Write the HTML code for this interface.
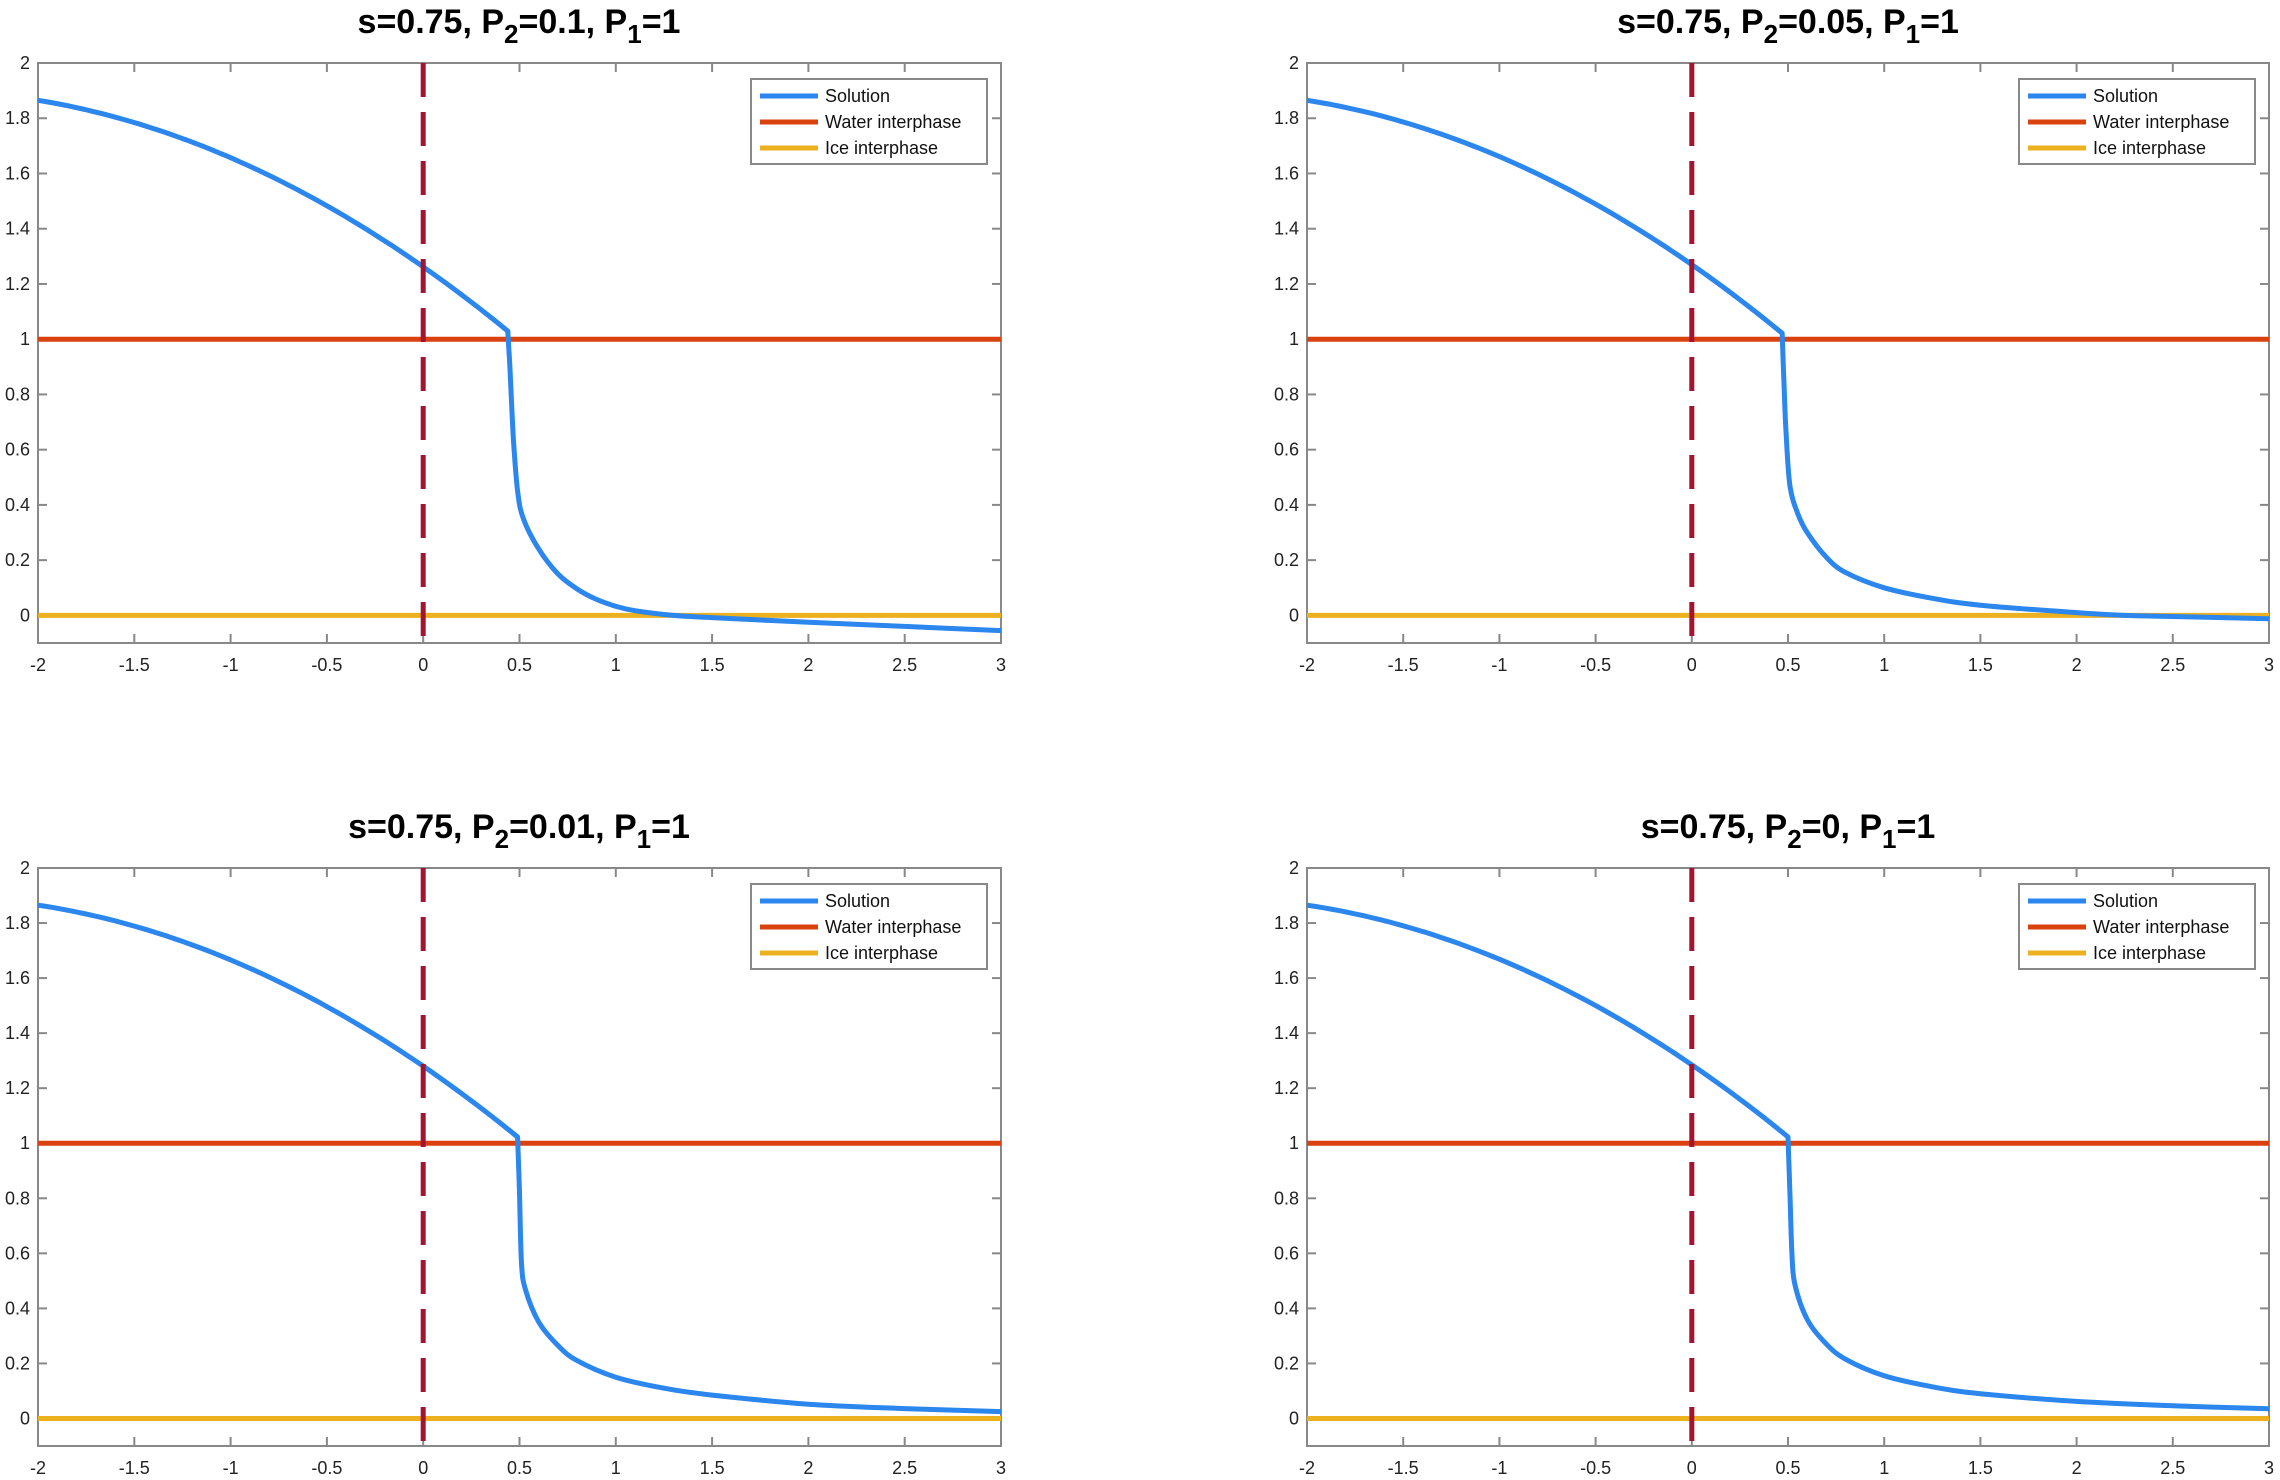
<!DOCTYPE html>
<html><head><meta charset="utf-8"><style>
html,body{margin:0;padding:0;background:#fff;width:2280px;height:1480px;overflow:hidden}
svg{display:block}
text{font-family:"Liberation Sans",Arial,sans-serif}
</style></head><body>
<svg id="s" width="2280" height="1480" xmlns="http://www.w3.org/2000/svg">
<text x="519" y="33" font-size="34" font-weight="bold" text-anchor="middle">s=0.75, P<tspan font-size="26" dy="10">2</tspan><tspan dy="-10">=0.1, P</tspan><tspan font-size="26" dy="10">1</tspan><tspan dy="-10">=1</tspan></text>
<text x="1788" y="33" font-size="34" font-weight="bold" text-anchor="middle">s=0.75, P<tspan font-size="26" dy="10">2</tspan><tspan dy="-10">=0.05, P</tspan><tspan font-size="26" dy="10">1</tspan><tspan dy="-10">=1</tspan></text>
<text x="519" y="838" font-size="34" font-weight="bold" text-anchor="middle">s=0.75, P<tspan font-size="26" dy="10">2</tspan><tspan dy="-10">=0.01, P</tspan><tspan font-size="26" dy="10">1</tspan><tspan dy="-10">=1</tspan></text>
<text x="1788" y="838" font-size="34" font-weight="bold" text-anchor="middle">s=0.75, P<tspan font-size="26" dy="10">2</tspan><tspan dy="-10">=0, P</tspan><tspan font-size="26" dy="10">1</tspan><tspan dy="-10">=1</tspan></text>
</svg>
<script>
var NS="http://www.w3.org/2000/svg",svg=document.getElementById("s");
function el(t,a,txt){var e=document.createElementNS(NS,t);for(var k in a)e.setAttribute(k,a[k]);if(txt!==undefined)e.textContent=txt;svg.appendChild(e);return e;}
var panels=[
{L:38,R:1001,T:63,B:643,up0:1.262,c:0.44,lo:[[0.45,0.9],[0.46,0.75],[0.47,0.62],[0.49,0.45],[0.52,0.35],[0.6,0.24],[0.7,0.15],[0.8,0.095],[0.9,0.058],[1.0,0.033],[1.1,0.017],[1.3,0],[1.5,-0.008],[2,-0.025],[2.5,-0.04],[3,-0.055]]},
{L:1307,R:2269,T:63,B:643,up0:1.27,c:0.47,lo:[[0.48,0.82],[0.49,0.66],[0.51,0.47],[0.55,0.37],[0.6,0.3],[0.7,0.21],[0.8,0.155],[1,0.1],[1.25,0.062],[1.5,0.037],[2,0.01],[2.25,0],[2.5,-0.004],[3,-0.012]]},
{L:38,R:1001,T:868,B:1446,up0:1.28,c:0.49,lo:[[0.5,0.82],[0.51,0.57],[0.53,0.47],[0.6,0.35],[0.7,0.265],[0.8,0.21],[1,0.15],[1.25,0.11],[1.5,0.085],[2,0.052],[2.5,0.036],[3,0.025]]},
{L:1307,R:2269,T:868,B:1446,up0:1.285,c:0.5,lo:[[0.51,0.82],[0.52,0.61],[0.535,0.49],[0.6,0.36],[0.7,0.27],[0.8,0.215],[1,0.155],[1.25,0.115],[1.5,0.09],[2,0.062],[2.5,0.046],[3,0.035]]}
];
function cr(P){var d="M"+P[0][0].toFixed(1)+","+P[0][1].toFixed(1);
 for(var i=0;i<P.length-1;i++){var p0=P[i>0?i-1:0],p1=P[i],p2=P[i+1],p3=P[i+2<P.length?i+2:i+1];
  var c1=[p1[0]+(p2[0]-p0[0])/6,p1[1]+(p2[1]-p0[1])/6],c2=[p2[0]-(p3[0]-p1[0])/6,p2[1]-(p3[1]-p1[1])/6];
  d+=" C"+c1[0].toFixed(1)+","+c1[1].toFixed(1)+" "+c2[0].toFixed(1)+","+c2[1].toFixed(1)+" "+p2[0].toFixed(1)+","+p2[1].toFixed(1);}
 return d;}
panels.forEach(function(p){
 var sx=function(x){return p.L+(x+2)/5*(p.R-p.L)},sy=function(y){return p.B-(y+0.1)/2.1*(p.B-p.T)};
 el("rect",{x:p.L,y:p.T,width:p.R-p.L,height:p.B-p.T,fill:"none",stroke:"#888","stroke-width":2});
 for(var i=0;i<=10;i++){var x=-2+i*0.5,X=sx(x);
  el("line",{x1:X,y1:p.B,x2:X,y2:p.B-9,stroke:"#888","stroke-width":2});
  el("line",{x1:X,y1:p.T,x2:X,y2:p.T+9,stroke:"#888","stroke-width":2});
  el("text",{x:X,y:p.B+28,"font-size":18,"text-anchor":"middle",fill:"#222"},String(x));}
 for(var j=0;j<=10;j++){var y=j*0.2,Y=sy(y);
  el("line",{x1:p.L,y1:Y,x2:p.L+9,y2:Y,stroke:"#888","stroke-width":2});
  el("line",{x1:p.R,y1:Y,x2:p.R-9,y2:Y,stroke:"#888","stroke-width":2});
  el("text",{x:p.L-8,y:Y+6,"font-size":18,"text-anchor":"end",fill:"#222"},(Math.round(y*10)/10).toString());}
 el("line",{x1:p.L,y1:sy(0),x2:p.R,y2:sy(0),stroke:"#EDB120","stroke-width":5});
 el("line",{x1:p.L,y1:sy(1),x2:p.R,y2:sy(1),stroke:"#D9410F","stroke-width":5});
 var d="";
 for(var k=0;k<=60;k++){var x=-2+(p.c+2)*k/60;var y=-0.0935*x*x-0.4855*x+1.268+(p.up0-1.268)*(x+2)/2;
  var yy=Math.max(y,1.02);d+=(k?" L":"M")+sx(x).toFixed(1)+","+sy(yy).toFixed(1);}
 var lo=[[p.c,1.02]].concat(p.lo).map(function(q){return [sx(q[0]),sy(q[1])]});
 d+=" "+cr(lo).replace(/^M[^ ]+/,"L"+lo[0][0].toFixed(1)+","+lo[0][1].toFixed(1));
 el("path",{d:d,fill:"none",stroke:"#2B86EE","stroke-width":5,"stroke-linejoin":"round"});
 el("line",{x1:sx(0),y1:p.T,x2:sx(0),y2:p.B,stroke:"#A2142F","stroke-width":5,"stroke-dasharray":"34,15"});
 var lx=p.R-250,ly=p.T+16;
 el("rect",{x:lx,y:ly,width:236,height:85,fill:"#fff",stroke:"#888","stroke-width":2});
 var cols=["#2B86EE","#D9410F","#EDB120"],lab=["Solution","Water interphase","Ice interphase"];
 for(var k=0;k<3;k++){var yy=ly+17+k*26;
  el("line",{x1:lx+9,y1:yy,x2:lx+67,y2:yy,stroke:cols[k],"stroke-width":5});
  el("text",{x:lx+74,y:yy+6,"font-size":18,fill:"#111"},lab[k]);}
});
</script>
</body></html>
